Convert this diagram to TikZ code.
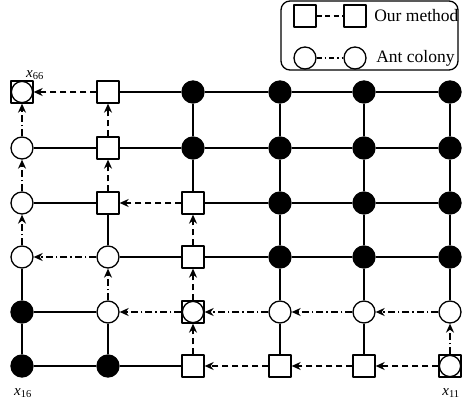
\documentclass[tikz,border=0pt]{standalone}
\usepackage{fontspec}
\setmainfont{Liberation Serif}
\usetikzlibrary{arrows.meta,positioning}
\tikzset{
  blk/.style={circle,draw=black,fill=black,minimum size=22pt,inner sep=0pt},
  cir/.style={circle,draw=black,fill=white,minimum size=22pt,inner sep=0pt},
  sq/.style={rectangle,draw=black,fill=white,minimum size=22pt,inner sep=0pt},
  sqcir/.style={sq,path picture={\draw (path picture bounding box.center) circle (10.6pt);}},
  our/.style={->,dash pattern=on 6pt off 4pt},
  ant/.style={->,dash pattern=on 7pt off 3pt on 1.5pt off 3pt},
  lbl/.style={font=\fontsize{15}{17}\selectfont},
  legtext/.style={inner sep=0pt,font=\fontsize{17.5}{20}\selectfont}
}
\begin{document}
\begin{tikzpicture}[x=1pt, y=1pt, line width=1.3pt, line join=round, >={Stealth[length=9pt,width=8pt]}]
\useasboundingbox (0,0) rectangle (474,404);
% grid nodes, x_{ij}: i row from bottom, j column from right
\node[sqcir] (x66) at (22,312) {};
\node[sq]    (x65) at (108,312) {};
\node[blk]   (x64) at (193,312) {};
\node[blk]   (x63) at (280,312) {};
\node[blk]   (x62) at (364,312) {};
\node[blk]   (x61) at (450,312) {};
\node[cir]   (x56) at (22,256) {};
\node[sq]    (x55) at (108,256) {};
\node[blk]   (x54) at (193,256) {};
\node[blk]   (x53) at (280,256) {};
\node[blk]   (x52) at (364,256) {};
\node[blk]   (x51) at (450,256) {};
\node[cir]   (x46) at (22,201) {};
\node[sq]    (x45) at (108,201) {};
\node[sq]    (x44) at (193,201) {};
\node[blk]   (x43) at (280,201) {};
\node[blk]   (x42) at (364,201) {};
\node[blk]   (x41) at (450,201) {};
\node[cir]   (x36) at (22,147) {};
\node[cir]   (x35) at (108,147) {};
\node[sq]    (x34) at (193,147) {};
\node[blk]   (x33) at (280,147) {};
\node[blk]   (x32) at (364,147) {};
\node[blk]   (x31) at (450,147) {};
\node[blk]   (x26) at (22,92) {};
\node[cir]   (x25) at (108,92) {};
\node[sqcir] (x24) at (193,92) {};
\node[cir]   (x23) at (280,92) {};
\node[cir]   (x22) at (364,92) {};
\node[cir]   (x21) at (450,92) {};
\node[blk]   (x16) at (22,38) {};
\node[blk]   (x15) at (108,38) {};
\node[sq]    (x14) at (193,38) {};
\node[sq]    (x13) at (280,38) {};
\node[sq]    (x12) at (364,38) {};
\node[sqcir] (x11) at (450,38) {};
% plain grid edges
\foreach \a/\b in {x61/x62,x62/x63,x63/x64,x64/x65,
                   x51/x52,x52/x53,x53/x54,x54/x55,x55/x56,
                   x41/x42,x42/x43,x43/x44,x45/x46,
                   x31/x32,x32/x33,x33/x34,x34/x35,
                   x25/x26,x14/x15,x15/x16,
                   x21/x31,x31/x41,x41/x51,x51/x61,
                   x12/x22,x22/x32,x32/x42,x42/x52,x52/x62,
                   x13/x23,x23/x33,x33/x43,x43/x53,x53/x63,
                   x44/x54,x54/x64,x15/x25,x35/x45,x16/x26,x26/x36}
  \draw (\a) -- (\b);
% our method
\foreach \a/\b in {x11/x12,x12/x13,x13/x14,x14/x24,x24/x34,x34/x44,x44/x45,x45/x55,x55/x65,x65/x66}
  \draw[our] (\a) -- (\b);
% ant colony
\foreach \a/\b in {x11/x21,x21/x22,x22/x23,x23/x24,x24/x25,x25/x35,x35/x36,x36/x46,x46/x56,x56/x66}
  \draw[ant] (\a) -- (\b);
% labels
\node[lbl] (l66) at (35,329) {\textit{x}\textsubscript{66}};
\node[lbl] (l16) at (23,11) {\textit{x}\textsubscript{16}};
\node[lbl] (l11) at (451,11) {\textit{x}\textsubscript{11}};
% legend
\draw[rounded corners=9pt] (281,403) rectangle (458,334);
\node[sq] (lsq1) at (305,388) {};
\node[sq] (lsq2) at (355,388) {};
\draw[dash pattern=on 5pt off 3.5pt] (lsq1) -- (lsq2);
\node[legtext, right=7pt of lsq2] (lour) {Our method};
\node[cir] (lci1) at (305,346) {};
\node[cir] (lci2) at (355,346) {};
\draw[dash pattern=on 5pt off 3pt on 1.5pt off 3pt] (lci1) -- (lci2);
\node[legtext, right=9pt of lci2] (lant) {Ant colony};
\end{tikzpicture}
\end{document}
